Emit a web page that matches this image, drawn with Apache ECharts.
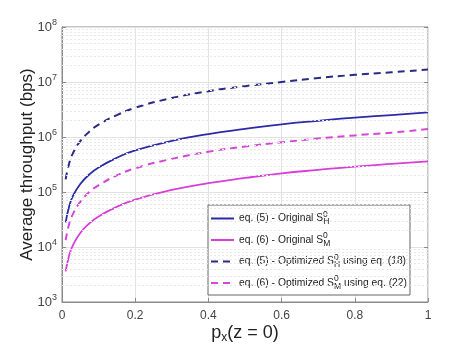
<!DOCTYPE html>
<html><head><meta charset="utf-8">
<script src="https://cdn.jsdelivr.net/npm/echarts@6/dist/echarts.min.js"></script>
<style>html,body{margin:0;padding:0;background:#fff}#c{width:474px;height:355px}</style>
</head><body><div id="c"></div>
<script>
var px = [0.01, 0.02, 0.03, 0.05, 0.075, 0.1, 0.15, 0.2, 0.3, 0.4, 0.5, 0.6, 0.7, 0.8, 0.9, 1.0];
var origH = [2.8e4, 5.6e4, 8.5e4, 1.4e5, 2.1e5, 2.8e5, 4.2e5, 5.7e5, 8.5e5, 1.13e6, 1.4e6, 1.7e6, 1.97e6, 2.25e6, 2.5e6, 2.8e6];
var origM = [3.6e3, 7.2e3, 1.08e4, 1.8e4, 2.7e4, 3.6e4, 5.4e4, 7.3e4, 1.09e5, 1.45e5, 1.8e5, 2.18e5, 2.53e5, 2.9e5, 3.25e5, 3.6e5];
var optH = [1.7e5, 3.4e5, 5.1e5, 8.4e5, 1.26e6, 1.68e6, 2.5e6, 3.4e6, 5.1e6, 6.8e6, 8.4e6, 1.0e7, 1.18e7, 1.35e7, 1.5e7, 1.68e7];
var optM = [1.33e4, 2.7e4, 4.0e4, 6.6e4, 1.0e5, 1.33e5, 2.0e5, 2.7e5, 4.0e5, 5.4e5, 6.7e5, 8.0e5, 9.4e5, 1.07e6, 1.2e6, 1.4e6];
var names = ['eq. (5) - Original S0H', 'eq. (6) - Original S0M', 'eq. (5) - Optimized S0H using eq. (18)', 'eq. (6) - Optimized S0M using eq. (22)'];
var legendRich = {
  'eq. (5) - Original S0H': 'eq. (5) - Original S{sup|0}{sub|H}',
  'eq. (6) - Original S0M': 'eq. (6) - Original S{sup|0}{sub|M}',
  'eq. (5) - Optimized S0H using eq. (18)': 'eq. (5) - Optimized S{sup|0}{sub|H} using eq. (18)',
  'eq. (6) - Optimized S0M using eq. (22)': 'eq. (6) - Optimized S{sup|0}{sub|M} using eq. (22)'
};
var xTicks = [0, 0.2, 0.4, 0.6, 0.8, 1];
var minorY = [];
for (var e = 3; e < 8; e++) { for (var m = 2; m <= 9; m++) { minorY.push(m * Math.pow(10, e)); } }

function pairs(arr) { return px.map(function (p, i) { return [p, arr[i]]; }); }

var chart = echarts.init(document.getElementById('c'), null, {renderer: 'canvas'});
var font = 'Liberation Sans, Arial, sans-serif';
chart.setOption({
  animation: false,
  textStyle: {fontFamily: font},
  grid: {left: 62, right: 46, top: 27, bottom: 53, show: true, borderColor: '#8a8a8a', borderWidth: 1, backgroundColor: '#fff'},
  legend: {
    orient: 'vertical', left: 208, top: 205,
    data: names,
    backgroundColor: '#fff', borderColor: '#666', borderWidth: 1, borderRadius: 0, borderType: 'solid',
    padding: [5, 3, 4, 2], itemGap: 5, itemWidth: 23, itemHeight: 14,
    itemStyle: {opacity: 0},
    textStyle: {fontSize: 10.3, color: '#222', fontFamily: font,
      rich: {
        sup: {fontSize: 8.5, color: '#222', width: 0.1, padding: [0, 0, 8, 0], fontFamily: font},
        sub: {fontSize: 8.5, color: '#222', padding: [7, 0, 0, 0], fontFamily: font}
      }},
    formatter: function (n) { return legendRich[n]; }
  },
  xAxis: {
    type: 'value', min: 0, max: 1, interval: 0.2,
    name: '{p|p}{s|x}{p|(z = 0)}', nameLocation: 'middle', nameGap: 20, nameMoveOverlap: false,
    nameTextStyle: {rich: {p: {fontSize: 18, color: '#222', fontFamily: font}, s: {fontSize: 12, color: '#222', padding: [10, 0, 0, 0], fontFamily: font}}},
    axisLine: {show: true, lineStyle: {color: '#8a8a8a'}},
    axisTick: {show: true, inside: true, length: 4, lineStyle: {color: '#8a8a8a'}},
    axisLabel: {fontSize: 12, color: '#444', margin: 8, formatter: function (v) { return String(Math.round(v * 10) / 10); }},
    splitLine: {show: true, lineStyle: {color: '#e2e2e2', width: 1}}
  },
  yAxis: [{
    type: 'log', logBase: 10, min: 1e3, max: 1e8,
    name: 'Average throughput (bps)', nameLocation: 'middle', nameGap: 26, nameMoveOverlap: false,
    nameTextStyle: {fontSize: 17, color: '#222', fontFamily: font},
    axisLine: {show: true, lineStyle: {color: '#8a8a8a'}},
    axisTick: {show: true, inside: true, length: 4, lineStyle: {color: '#8a8a8a'}},
    axisLabel: {fontSize: 13, color: '#444', margin: 5,
      formatter: function (v) { return '10{e|' + Math.round(Math.log10(v)) + '}'; },
      rich: {e: {fontSize: 9, color: '#444', padding: [0, 0, 9, 0]}}},
    splitLine: {show: true, lineStyle: {color: '#e2e2e2', width: 1}}
  }, {
    type: 'log', logBase: 10, min: 1e3, max: 1e8, position: 'right',
    axisLine: {show: false}, axisLabel: {show: false}, splitLine: {show: false},
    axisTick: {show: true, inside: true, length: 4, lineStyle: {color: '#8a8a8a'}}
  }],
  series: [
    {name: 'grid-minor', type: 'line', data: [], silent: true,
      markLine: {silent: true, symbol: 'none', label: {show: false},
        lineStyle: {color: '#e8e8e8', type: [2, 2], width: 1},
        data: minorY.map(function (v) { return {yAxis: v}; })}},
    {name: names[0], type: 'line', data: pairs(origH), showSymbol: false, symbol: 'none', smooth: true,
      lineStyle: {color: '#2b2ba6', width: 1.8}, itemStyle: {color: '#2b2ba6'}},
    {name: names[1], type: 'line', data: pairs(origM), showSymbol: false, symbol: 'none', smooth: true,
      lineStyle: {color: '#d83ed8', width: 1.8}, itemStyle: {color: '#d83ed8'}},
    {name: names[2], type: 'line', data: pairs(optH), showSymbol: false, symbol: 'none', smooth: true,
      lineStyle: {color: '#2a2a84', width: 2, type: [7, 5]}, itemStyle: {color: '#2a2a84'}},
    {name: names[3], type: 'line', data: pairs(optM), showSymbol: false, symbol: 'none', smooth: true,
      lineStyle: {color: '#d448d4', width: 2, type: [7, 5]}, itemStyle: {color: '#d448d4'}}
  ]
});
</script></body></html>
